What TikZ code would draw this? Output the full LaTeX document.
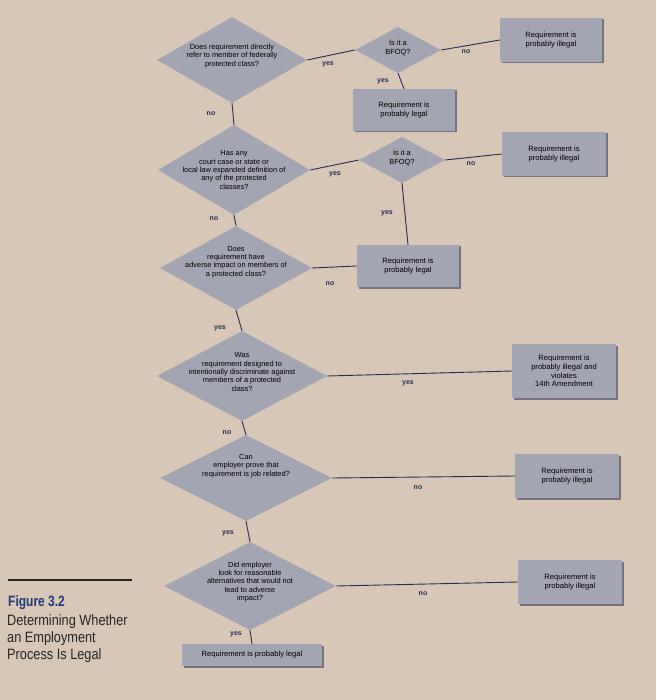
\documentclass[tikz,border=0pt]{standalone}
\usepackage{fontspec}
\setmainfont{Liberation Sans}
\usetikzlibrary{shapes.geometric,shadows}
\definecolor{paper}{HTML}{D8C6B6}
\definecolor{shapefill}{HTML}{A3A5B2}
\definecolor{ink}{HTML}{2A2D55}
\definecolor{capblue}{HTML}{1F3C7A}
\tikzset{
  dec/.style={shape=diamond,fill=shapefill,inner sep=0pt},
  res/.style={fill=shapefill,align=center,font=\fontsize{7.6}{8.6}\selectfont,inner sep=2pt,
     drop shadow={shadow xshift=1.5pt,shadow yshift=-1.5pt,fill=ink,opacity=.55}},
  dtext/.style={align=center,font=\fontsize{7.4}{8.4}\selectfont},
  lbl/.style={font=\bfseries\fontsize{7}{8}\selectfont,text=ink},
  conn/.style={draw=ink,line width=0.9pt}
}
\begin{document}
\begin{tikzpicture}[x=1pt,y=-1pt]
\fill[paper] (0,0) rectangle (656,700);
\useasboundingbox (0,0) rectangle (656,700);
% decisions
\node[dec,minimum width=150pt,minimum height=86pt] (d1) at (232,60) {};
\node[dtext] at (232,56) {Does requirement directly\\refer to member of federally\\protected class?};
\node[dec,minimum width=152pt,minimum height=90pt] (d2) at (234,170) {};
\node[dtext] at (234,170) {Has any\\court case or state or\\local law expanded definition of\\any of the protected\\classes?};
\node[dec,minimum width=152pt,minimum height=84pt] (d3) at (236,268) {};
\node[dtext] at (236,262) {Does\\requirement have\\adverse impact on members of\\a protected class?};
\node[dec,minimum width=170pt,minimum height=90pt] (d4) at (242,376) {};
\node[dtext] at (242,372) {Was\\requirement designed to\\intentionally discriminate against\\members of a protected\\class?};
\node[dec,minimum width=172pt,minimum height=86pt] (d5) at (246,478) {};
\node[dtext] at (246,466) {Can\\employer prove that\\requirement is job related?};
\node[dec,minimum width=172pt,minimum height=88pt] (d6) at (250,586) {};
\node[dtext] at (250,582) {Did employer\\look for reasonable\\alternatives that would not\\lead to adverse\\impact?};
\node[dec,minimum width=86pt,minimum height=46pt] (b1) at (398,50) {};
\node[dtext] at (398,48) {Is it a\\BFOQ?};
\node[dec,minimum width=86pt,minimum height=46pt] (b2) at (402,160) {};
\node[dtext] at (402,158) {Is it a\\BFOQ?};
% results
\node[res,minimum width=102pt,minimum height=44pt] (i1) at (551,40) {Requirement is\\probably illegal};
\node[res,minimum width=102pt,minimum height=42pt] (l1) at (404,110) {Requirement is\\probably legal};
\node[res,minimum width=104pt,minimum height=44pt] (i2) at (554,154) {Requirement is\\probably illegal};
\node[res,minimum width=102pt,minimum height=42pt] (l2) at (408,266) {Requirement is\\probably legal};
\node[res,minimum width=104pt,minimum height=54pt] (i3) at (564,371) {Requirement is\\probably illegal and\\violates\\14th Amendment};
\node[res,minimum width=104pt,minimum height=44pt] (i4) at (567,476) {Requirement is\\probably illegal};
\node[res,minimum width=104pt,minimum height=44pt] (i5) at (570,582) {Requirement is\\probably illegal};
\node[res,minimum width=140pt,minimum height=22pt] (lf) at (252,655) {Requirement is probably legal};
% connectors
\draw[conn] (d1.east) -- (b1.west);
\draw[conn] (b1.east) -- (i1.west);
\draw[conn] (b1.south) -- (l1.north);
\draw[conn] (d1.south) -- (d2.north);
\draw[conn] (d2.east) -- (b2.west);
\draw[conn] (b2.east) -- (i2.west);
\draw[conn] (b2.south) -- (l2.north);
\draw[conn] (d2.south) -- (d3.north);
\draw[conn] (d3.east) -- (l2.west);
\draw[conn] (d3.south) -- (d4.north);
\draw[conn] (d4.east) -- (i3.west);
\draw[conn] (d4.south) -- (d5.north);
\draw[conn] (d5.east) -- (i4.west);
\draw[conn] (d5.south) -- (d6.north);
\draw[conn] (d6.east) -- (i5.west);
\draw[conn] (d6.south) -- (lf.north);
% labels
\node[lbl] at (328,64) {yes};
\node[lbl] at (466,52) {no};
\node[lbl] at (383,81) {yes};
\node[lbl] at (211,114) {no};
\node[lbl] at (335,174) {yes};
\node[lbl] at (471,164) {no};
\node[lbl] at (387,213) {yes};
\node[lbl] at (214,219) {no};
\node[lbl] at (330,284) {no};
\node[lbl] at (220,328) {yes};
\node[lbl] at (408,383) {yes};
\node[lbl] at (227,433) {no};
\node[lbl] at (418,488) {no};
\node[lbl] at (228,533) {yes};
\node[lbl] at (423,594) {no};
\node[lbl] at (236,634) {yes};
% caption
\draw[line width=1.2pt,black!85] (8,580) -- (132,580);
\node[anchor=west,font=\bfseries\fontsize{15}{16}\selectfont\addfontfeatures{FakeStretch=0.8},text=capblue,inner sep=0pt] (fig) at (8,603) {Figure 3.2};
\node[anchor=north west,align=left,font=\fontsize{15}{17}\selectfont\addfontfeatures{FakeStretch=0.85},text=black!85,inner sep=0pt] (cap) at (7,614) {Determining Whether\\an Employment\\Process Is Legal};
\end{tikzpicture}
\end{document}
